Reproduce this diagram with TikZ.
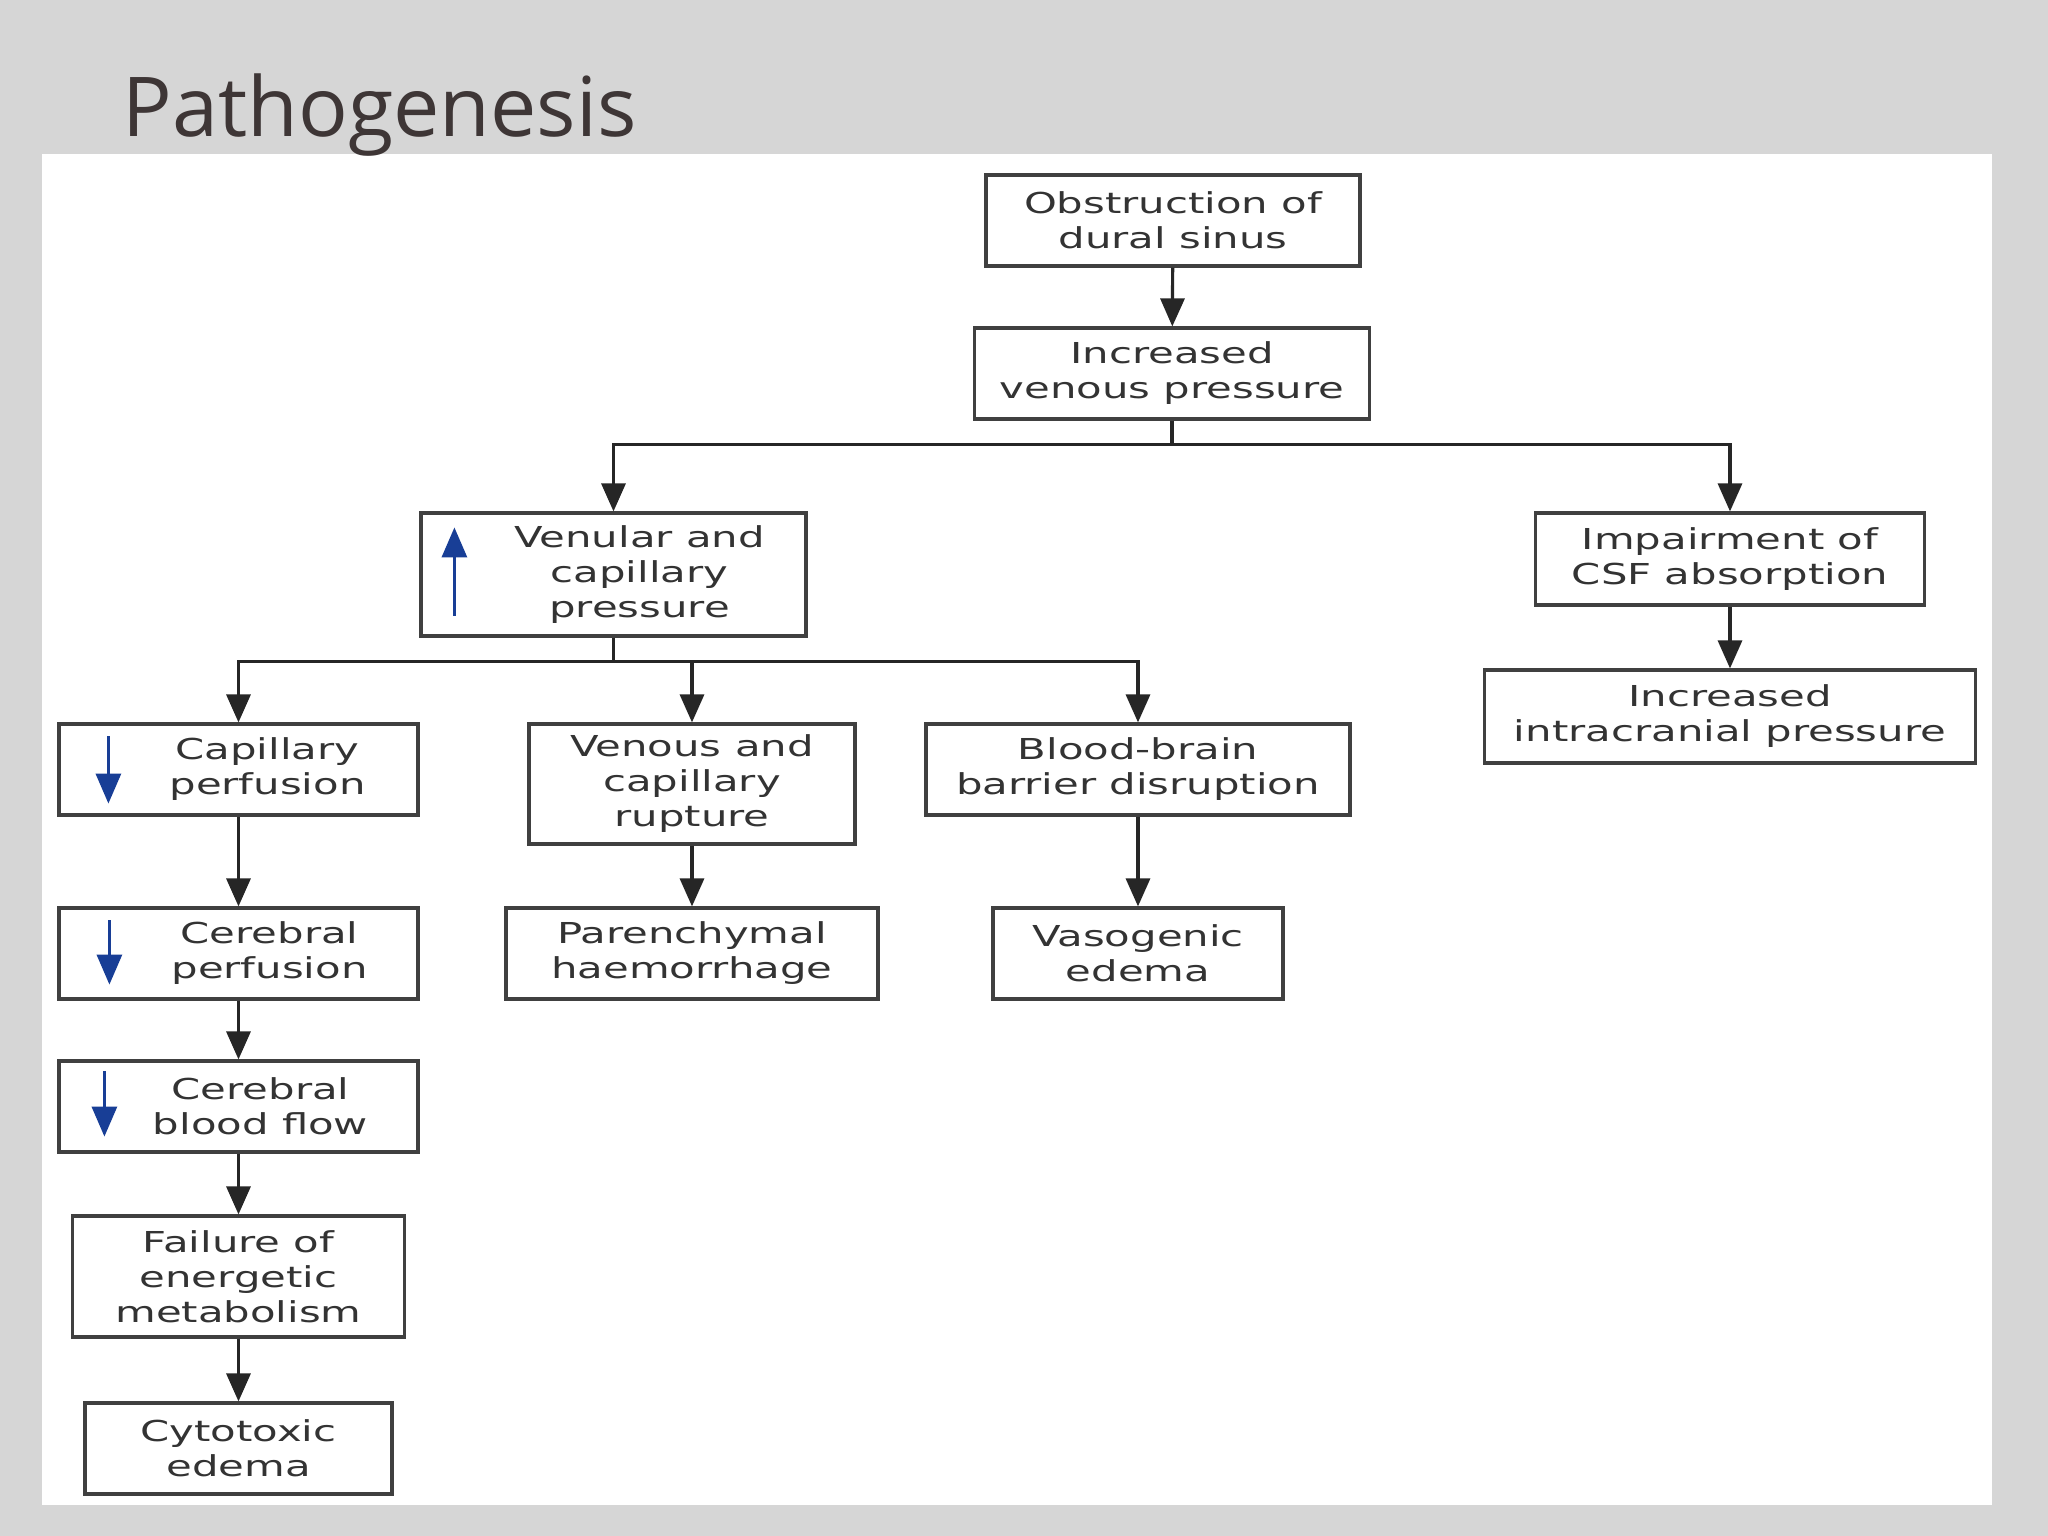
\documentclass[tikz,border=0pt]{standalone}
\usepackage{fontspec}
\usetikzlibrary{arrows.meta, calc}
\newfontfamily\boxfont[FakeStretch=1.45]{DejaVu Sans}
\newfontfamily\titlefont{Open Sans}
\definecolor{slidegray}{RGB}{214,214,214}
\definecolor{titlecolor}{RGB}{62,54,54}
\definecolor{tickblue}{RGB}{24,62,150}
\colorlet{boxline}{black!75}

\begin{document}
\begin{tikzpicture}[>=Stealth,
    box/.style={draw=boxline, line width=0.9pt, fill=white, align=center,
      inner sep=0pt, font=\boxfont\fontsize{8.2}{9.95}\selectfont, text=black!80},
    txt/.style={align=center, inner sep=0pt, font=\boxfont\fontsize{8.2}{9.95}\selectfont, text=black!80},
    link/.style={draw=black!85, line width=0.9pt, -{Triangle[length=0.28cm, width=0.24cm]}},
    trunk/.style={draw=black!85, line width=0.9pt},
    uptick/.style={draw=tickblue, line width=0.9pt, -{Triangle[length=0.3cm, width=0.25cm]}}]

  \useasboundingbox (0,0) rectangle (20.48,-15.36);
  \fill[slidegray] (0,0) rectangle (20.48,-15.36);
  \fill[white] (0.42,-1.54) rectangle (19.92,-15.05);

  \node[anchor=base west, font=\titlefont\fontsize{23.5}{28}\selectfont, text=titlecolor, inner sep=0pt]
    (title) at (1.22,-1.37) {Pathogenesis};

  % top of the chain
  \node[box, minimum width=3.74cm, minimum height=0.91cm] (obst) at (11.73,-2.205) {Obstruction of\\dural sinus};
  \node[box, minimum width=3.95cm, minimum height=0.91cm] (venp) at (11.72,-3.735) {Increased\\venous pressure};

  % second level
  \node[box, minimum width=3.85cm, minimum height=1.23cm] (venul) at (6.135,-5.745) {};
  \node[txt, xshift=0.26cm] (venul-t) at (venul) {Venular and\\capillary\\pressure};
  \node[box, minimum width=3.89cm, minimum height=0.92cm] (csf) at (17.30,-5.59) {Impairment of\\CSF absorption};
  \node[box, minimum width=4.91cm, minimum height=0.93cm] (icp) at (17.30,-7.165) {Increased\\intracranial pressure};

  % third level
  \node[box, minimum width=3.59cm, minimum height=0.91cm] (capp) at (2.385,-7.695) {};
  \node[txt, xshift=0.29cm] (capp-t) at (capp) {Capillary\\perfusion};
  \node[box, minimum width=3.26cm, minimum height=1.20cm] (rupt) at (6.92,-7.84) {Venous and\\capillary\\rupture};
  \node[box, minimum width=4.24cm, minimum height=0.91cm] (bbb) at (11.38,-7.695) {Blood-brain\\barrier disruption};

  \node[box, minimum width=3.59cm, minimum height=0.91cm] (cerp) at (2.385,-9.535) {};
  \node[txt, xshift=0.31cm] (cerp-t) at (cerp) {Cerebral\\perfusion};
  \node[box, minimum width=3.72cm, minimum height=0.91cm] (paren) at (6.92,-9.535) {Parenchymal\\haemorrhage};
  \node[box, minimum width=2.90cm, minimum height=0.91cm] (vaso) at (11.38,-9.535) {Vasogenic\\edema};

  \node[box, minimum width=3.59cm, minimum height=0.91cm] (cbf) at (2.385,-11.065) {};
  \node[txt, xshift=0.22cm] (cbf-t) at (cbf) {Cerebral\\blood flow};
  \node[box, minimum width=3.32cm, minimum height=1.21cm] (fail) at (2.385,-12.765) {Failure of\\energetic\\metabolism};
  \node[box, minimum width=3.07cm, minimum height=0.91cm] (cyto) at (2.385,-14.485) {Cytotoxic\\edema};

  % blue up / down ticks
  \draw[uptick] ([xshift=0.35cm, yshift=0.22cm]venul.south west) -- ([xshift=0.35cm, yshift=-0.16cm]venul.north west);
  \draw[uptick] ([xshift=0.51cm, yshift=-0.14cm]capp.north west) -- ([xshift=0.51cm, yshift=0.13cm]capp.south west);
  \draw[uptick] ([xshift=0.52cm, yshift=-0.14cm]cerp.north west) -- ([xshift=0.52cm, yshift=0.16cm]cerp.south west);
  \draw[uptick] ([xshift=0.47cm, yshift=-0.12cm]cbf.north west) -- ([xshift=0.47cm, yshift=0.17cm]cbf.south west);

  % connectors
  \draw[link] (obst) -- (venp);
  \coordinate (j1) at ($(venp.south)+(0,-0.24)$);
  \draw[trunk] (venp.south) -- (j1);
  \draw[link] (j1) -| (venul.north);
  \draw[link] (j1) -| (csf.north);
  \draw[link] (csf) -- (icp);

  \coordinate (j2) at ($(venul.south)+(0,-0.24)$);
  \draw[trunk] (venul.south) -- (j2);
  \draw[link] (j2) -| (capp.north);
  \draw[link] (j2) -| (rupt.north);
  \draw[link] (j2) -| (bbb.north);

  \draw[link] (capp) -- (cerp);
  \draw[link] (cerp) -- (cbf);
  \draw[link] (cbf) -- (fail);
  \draw[link] (fail) -- (cyto);
  \draw[link] (rupt) -- (paren);
  \draw[link] (bbb) -- (vaso);

\end{tikzpicture}
\end{document}
